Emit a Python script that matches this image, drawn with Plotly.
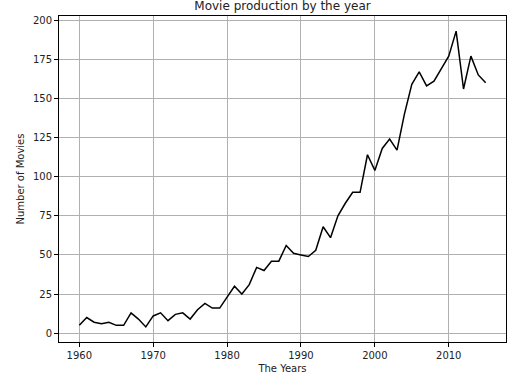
import plotly.graph_objects as go

years = list(range(1960, 2016))
movies = [5, 10, 7, 6, 7, 5, 5, 13, 9, 4,
          11, 13, 8, 12, 13, 9, 15, 19, 16, 16,
          23, 30, 25, 31, 42, 40, 46, 46, 56, 51,
          50, 49, 53, 68, 61, 75, 83, 90, 90, 114,
          104, 118, 124, 117, 140, 159, 167, 158, 161, 169,
          177, 193, 156, 177, 165, 160]
x_ticks = [1960, 1970, 1980, 1990, 2000, 2010]
y_ticks = [0, 25, 50, 75, 100, 125, 150, 175, 200]

fig = go.Figure(go.Scatter(x=years, y=movies, mode="lines",
                           line=dict(color="black", width=1.5), hoverinfo="skip"))

axis_common = dict(showline=True, linecolor="black", linewidth=1, mirror=True,
                   showgrid=True, gridcolor="#b0b0b0", gridwidth=1,
                   ticks="outside", ticklen=4, tickcolor="black", zeroline=False,
                   automargin=False,
                   tickfont=dict(size=10, color="#222"))

fig.update_layout(
    width=515, height=378,
    margin=dict(l=59, r=9, t=16, b=36, pad=0),
    paper_bgcolor="white", plot_bgcolor="white",
    font=dict(family="DejaVu Sans", color="#222"),
    title=dict(text="Movie production by the year", x=0.5, xanchor="center",
               xref="paper", yref="container", y=0.997, yanchor="top",
               font=dict(size=12), automargin=False),
    showlegend=False,
    xaxis=dict(range=[1957.25, 2017.75], tickvals=x_ticks,
               title=dict(text="The Years", font=dict(size=10), standoff=4), **axis_common),
    yaxis=dict(range=[-5.65, 202.65], tickvals=y_ticks,
               title=dict(text="Number of Movies", font=dict(size=10), standoff=6), **axis_common),
)

fig.write_html("out.html", config={"displayModeBar": False},
               post_script="document.body.style.margin='0';")
